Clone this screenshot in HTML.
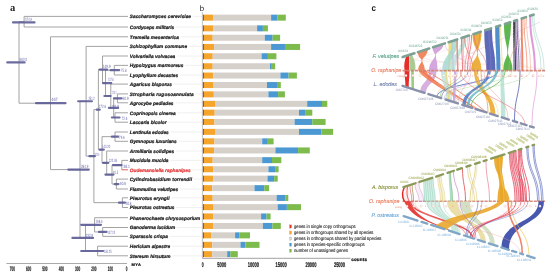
<!DOCTYPE html>
<html><head><meta charset="utf-8"><style>
html,body{margin:0;padding:0;background:#fff;}
body{width:550px;height:279px;overflow:hidden;}
svg{display:block;}
svg text{-webkit-font-smoothing:antialiased;text-rendering:geometricPrecision;} svg{will-change:transform;}
</style></head><body>
<svg width="550" height="279" viewBox="0 0 550 279">
<rect width="550" height="279" fill="#fff"/>
<g stroke="#989898" stroke-width="0.9" fill="none">
<line x1="19.0" y1="21.7" x2="19.0" y2="103.19599609375001"/>
<line x1="19.0" y1="21.7" x2="24.1" y2="21.7"/>
<line x1="19.0" y1="103.19599609375001" x2="50.5" y2="103.19599609375001"/>
<line x1="24.1" y1="16.4" x2="24.1" y2="27.0"/>
<line x1="24.1" y1="16.4" x2="128.0" y2="16.4"/>
<line x1="24.1" y1="27.0" x2="128.0" y2="27.0"/>
<line x1="50.5" y1="36.8" x2="50.5" y2="169.5919921875"/>
<line x1="50.5" y1="36.8" x2="128.0" y2="36.8"/>
<line x1="50.5" y1="169.5919921875" x2="80.0" y2="169.5919921875"/>
<line x1="80.0" y1="101.271484375" x2="80.0" y2="237.9125"/>
<line x1="80.0" y1="101.271484375" x2="86.1" y2="101.271484375"/>
<line x1="80.0" y1="237.9125" x2="85.5" y2="237.9125"/>
<line x1="86.1" y1="46.4" x2="86.1" y2="156.14296875"/>
<line x1="86.1" y1="46.4" x2="128.0" y2="46.4"/>
<line x1="86.1" y1="156.14296875" x2="93.9" y2="156.14296875"/>
<line x1="93.9" y1="109.6359375" x2="93.9" y2="202.65"/>
<line x1="93.9" y1="109.6359375" x2="98.4" y2="109.6359375"/>
<line x1="93.9" y1="202.65" x2="122.4" y2="202.65"/>
<line x1="98.4" y1="69.553125" x2="98.4" y2="149.71875"/>
<line x1="98.4" y1="69.553125" x2="102.5" y2="69.553125"/>
<line x1="98.4" y1="149.71875" x2="102.0" y2="149.71875"/>
<line x1="102.5" y1="56.0" x2="102.5" y2="83.10624999999999"/>
<line x1="102.5" y1="56.0" x2="128.0" y2="56.0"/>
<line x1="102.5" y1="83.10624999999999" x2="105.5" y2="83.10624999999999"/>
<line x1="105.5" y1="70.2" x2="105.5" y2="96.01249999999999"/>
<line x1="105.5" y1="70.2" x2="114.3" y2="70.2"/>
<line x1="105.5" y1="96.01249999999999" x2="110.8" y2="96.01249999999999"/>
<line x1="114.3" y1="65.4" x2="114.3" y2="75.0"/>
<line x1="114.3" y1="65.4" x2="128.0" y2="65.4"/>
<line x1="114.3" y1="75.0" x2="128.0" y2="75.0"/>
<line x1="110.8" y1="84.1" x2="110.8" y2="107.925"/>
<line x1="110.8" y1="84.1" x2="128.0" y2="84.1"/>
<line x1="110.8" y1="107.925" x2="113.7" y2="107.925"/>
<line x1="113.7" y1="98.35" x2="113.7" y2="117.5"/>
<line x1="113.7" y1="98.35" x2="117.4" y2="98.35"/>
<line x1="113.7" y1="117.5" x2="115.0" y2="117.5"/>
<line x1="117.4" y1="93.9" x2="117.4" y2="102.8"/>
<line x1="117.4" y1="93.9" x2="128.0" y2="93.9"/>
<line x1="117.4" y1="102.8" x2="128.0" y2="102.8"/>
<line x1="115.0" y1="112.8" x2="115.0" y2="122.2"/>
<line x1="115.0" y1="112.8" x2="128.0" y2="112.8"/>
<line x1="115.0" y1="122.2" x2="128.0" y2="122.2"/>
<line x1="102.0" y1="136.65" x2="102.0" y2="162.78750000000002"/>
<line x1="102.0" y1="136.65" x2="115.0" y2="136.65"/>
<line x1="102.0" y1="162.78750000000002" x2="106.7" y2="162.78750000000002"/>
<line x1="115.0" y1="132.0" x2="115.0" y2="141.3"/>
<line x1="115.0" y1="132.0" x2="128.0" y2="132.0"/>
<line x1="115.0" y1="141.3" x2="128.0" y2="141.3"/>
<line x1="106.7" y1="151.0" x2="106.7" y2="174.57500000000002"/>
<line x1="106.7" y1="151.0" x2="128.0" y2="151.0"/>
<line x1="106.7" y1="174.57500000000002" x2="112.0" y2="174.57500000000002"/>
<line x1="112.0" y1="165.10000000000002" x2="112.0" y2="184.05"/>
<line x1="112.0" y1="165.10000000000002" x2="121.8" y2="165.10000000000002"/>
<line x1="112.0" y1="184.05" x2="116.4" y2="184.05"/>
<line x1="121.8" y1="160.4" x2="121.8" y2="169.8"/>
<line x1="121.8" y1="160.4" x2="128.0" y2="160.4"/>
<line x1="121.8" y1="169.8" x2="128.0" y2="169.8" stroke="#e05050"/>
<line x1="116.4" y1="179.1" x2="116.4" y2="189.0"/>
<line x1="116.4" y1="179.1" x2="128.0" y2="179.1"/>
<line x1="116.4" y1="189.0" x2="128.0" y2="189.0"/>
<line x1="122.4" y1="197.8" x2="122.4" y2="207.5"/>
<line x1="122.4" y1="197.8" x2="128.0" y2="197.8"/>
<line x1="122.4" y1="207.5" x2="128.0" y2="207.5"/>
<line x1="85.5" y1="224.825" x2="85.5" y2="251.0"/>
<line x1="85.5" y1="224.825" x2="94.6" y2="224.825"/>
<line x1="85.5" y1="251.0" x2="97.6" y2="251.0"/>
<line x1="94.6" y1="217.7" x2="94.6" y2="231.95"/>
<line x1="94.6" y1="217.7" x2="128.0" y2="217.7"/>
<line x1="94.6" y1="231.95" x2="102.7" y2="231.95"/>
<line x1="102.7" y1="227.5" x2="102.7" y2="236.4"/>
<line x1="102.7" y1="227.5" x2="128.0" y2="227.5"/>
<line x1="102.7" y1="236.4" x2="128.0" y2="236.4"/>
<line x1="97.6" y1="246.2" x2="97.6" y2="255.8"/>
<line x1="97.6" y1="246.2" x2="128.0" y2="246.2"/>
<line x1="97.6" y1="255.8" x2="128.0" y2="255.8"/>
</g>
<g stroke="#ececec" stroke-width="0.8"><line x1="192.8" y1="16.4" x2="202.5" y2="16.4"/><line x1="176.0" y1="27.0" x2="202.5" y2="27.0"/><line x1="180.6" y1="36.8" x2="202.5" y2="36.8"/><line x1="188.9" y1="46.4" x2="202.5" y2="46.4"/><line x1="177.0" y1="56.0" x2="202.5" y2="56.0"/><line x1="185.2" y1="65.4" x2="202.5" y2="65.4"/><line x1="179.9" y1="75.0" x2="202.5" y2="75.0"/><line x1="173.7" y1="84.1" x2="202.5" y2="84.1"/><line x1="195.5" y1="93.9" x2="202.5" y2="93.9"/><line x1="175.3" y1="102.8" x2="202.5" y2="102.8"/><line x1="177.4" y1="112.8" x2="202.5" y2="112.8"/><line x1="168.4" y1="122.2" x2="202.5" y2="122.2"/><line x1="170.5" y1="132.0" x2="202.5" y2="132.0"/><line x1="178.4" y1="141.3" x2="202.5" y2="141.3"/><line x1="176.0" y1="151.0" x2="202.5" y2="151.0"/><line x1="170.3" y1="160.4" x2="202.5" y2="160.4"/><line x1="192.4" y1="169.8" x2="202.5" y2="169.8"/><line x1="193.8" y1="179.1" x2="202.5" y2="179.1"/><line x1="179.9" y1="189.0" x2="202.5" y2="189.0"/><line x1="171.3" y1="197.8" x2="202.5" y2="197.8"/><line x1="176.3" y1="207.5" x2="202.5" y2="207.5"/><line x1="202.0" y1="217.7" x2="202.5" y2="217.7"/><line x1="177.0" y1="227.5" x2="202.5" y2="227.5"/><line x1="169.7" y1="236.4" x2="202.5" y2="236.4"/><line x1="171.9" y1="246.2" x2="202.5" y2="246.2"/><line x1="172.3" y1="255.8" x2="202.5" y2="255.8"/></g>
<g stroke="#5f5f98" stroke-width="2.2" stroke-linecap="round" opacity="0.92"><line x1="7.30" y1="62.45" x2="24.60" y2="62.45"/><line x1="13.00" y1="22.40" x2="34.50" y2="22.40"/><line x1="36.10" y1="103.20" x2="65.50" y2="103.20"/><line x1="68.30" y1="169.59" x2="88.80" y2="169.59"/><line x1="78.20" y1="101.27" x2="91.90" y2="101.27"/><line x1="89.40" y1="156.14" x2="94.90" y2="156.14"/><line x1="96.90" y1="109.64" x2="99.70" y2="109.64"/><line x1="99.70" y1="69.55" x2="107.20" y2="69.55"/><line x1="103.00" y1="83.11" x2="111.30" y2="83.11"/><line x1="110.60" y1="70.20" x2="119.20" y2="70.20"/><line x1="104.40" y1="96.01" x2="110.60" y2="96.01"/><line x1="108.90" y1="107.92" x2="118.10" y2="107.92"/><line x1="114.00" y1="98.35" x2="121.50" y2="98.35"/><line x1="111.90" y1="117.50" x2="119.50" y2="117.50"/><line x1="99.70" y1="149.72" x2="103.80" y2="149.72"/><line x1="111.90" y1="136.65" x2="118.10" y2="136.65"/><line x1="103.00" y1="162.79" x2="108.30" y2="162.79"/><line x1="105.40" y1="174.58" x2="113.50" y2="174.58"/><line x1="113.00" y1="165.10" x2="121.50" y2="165.10"/><line x1="114.70" y1="184.05" x2="118.50" y2="184.05"/><line x1="119.00" y1="202.65" x2="125.00" y2="202.65"/><line x1="72.40" y1="237.91" x2="93.00" y2="237.91"/><line x1="81.20" y1="224.82" x2="101.00" y2="224.82"/><line x1="99.00" y1="231.95" x2="106.50" y2="231.95"/><line x1="81.20" y1="251.00" x2="103.10" y2="251.00"/></g>
<g font-family="Liberation Sans, sans-serif" font-size="4.6" fill="#6e6eb0"><text x="19.6" y="61.3" textLength="7.5" lengthAdjust="spacingAndGlyphs">662.0</text><text x="25.2" y="21.3" textLength="6.7" lengthAdjust="spacingAndGlyphs">574.9</text><text x="51.3" y="100.8" textLength="6.4" lengthAdjust="spacingAndGlyphs">467</text><text x="80.9" y="168.3" textLength="7.5" lengthAdjust="spacingAndGlyphs">284.9</text><text x="88.4" y="100.0" textLength="6.2" lengthAdjust="spacingAndGlyphs">251.2</text><text x="94.6" y="155.5" textLength="4.7" lengthAdjust="spacingAndGlyphs">202.6</text><text x="98.7" y="108.3" textLength="7.5" lengthAdjust="spacingAndGlyphs">172.6</text><text x="102.7" y="67.8" textLength="8.2" lengthAdjust="spacingAndGlyphs">149.9</text><text x="108.2" y="81.3" textLength="5.3" lengthAdjust="spacingAndGlyphs">137.8</text><text x="121.1" y="72.1" textLength="5.3" lengthAdjust="spacingAndGlyphs">75.8</text><text x="112.3" y="93.9" textLength="4.1" lengthAdjust="spacingAndGlyphs">120.4</text><text x="112.3" y="107.6" textLength="6.8" lengthAdjust="spacingAndGlyphs">99.8</text><text x="122.5" y="100.2" textLength="6.2" lengthAdjust="spacingAndGlyphs">60.9</text><text x="121.8" y="119.9" textLength="5.5" lengthAdjust="spacingAndGlyphs">72.6</text><text x="102.0" y="147.8" textLength="8.3" lengthAdjust="spacingAndGlyphs">143.20</text><text x="119.1" y="138.9" textLength="5.5" lengthAdjust="spacingAndGlyphs">79.6</text><text x="108.7" y="161.7" textLength="8.2" lengthAdjust="spacingAndGlyphs">122.48</text><text x="113.0" y="173.8" textLength="5.2" lengthAdjust="spacingAndGlyphs">91.5</text><text x="123.3" y="167.5" textLength="6.5" lengthAdjust="spacingAndGlyphs">38.1</text><text x="120.0" y="185.2" textLength="5.8" lengthAdjust="spacingAndGlyphs">60.8</text><text x="125.8" y="204.9" textLength="5.7" lengthAdjust="spacingAndGlyphs">30.8</text><text x="85.7" y="236.5" textLength="7.5" lengthAdjust="spacingAndGlyphs">232.9</text><text x="95.8" y="223.1" textLength="6.7" lengthAdjust="spacingAndGlyphs">198.6</text><text x="107.5" y="233.9" textLength="7.5" lengthAdjust="spacingAndGlyphs">147.23</text><text x="104.1" y="253.3" textLength="7.5" lengthAdjust="spacingAndGlyphs">181.25</text></g>
<g font-family="Liberation Sans, sans-serif" font-weight="bold" font-style="italic" font-size="4.75" stroke-width="0.22"><text x="129.8" y="18.35" fill="#1a1a1a" stroke="#1a1a1a" textLength="61.2" lengthAdjust="spacing">Saccharomyces cerevisiae</text><text x="129.8" y="28.95" fill="#1a1a1a" stroke="#1a1a1a" textLength="44.4" lengthAdjust="spacing">Cordyceps militaris</text><text x="129.8" y="38.75" fill="#1a1a1a" stroke="#1a1a1a" textLength="49.0" lengthAdjust="spacing">Tremella mesenterica</text><text x="129.8" y="48.35" fill="#1a1a1a" stroke="#1a1a1a" textLength="57.3" lengthAdjust="spacing">Schizophyllum commune</text><text x="129.8" y="57.95" fill="#1a1a1a" stroke="#1a1a1a" textLength="45.4" lengthAdjust="spacing">Volvariella volvacea</text><text x="129.8" y="67.35" fill="#1a1a1a" stroke="#1a1a1a" textLength="53.6" lengthAdjust="spacing">Hypsizygus marmoreus</text><text x="129.8" y="76.95" fill="#1a1a1a" stroke="#1a1a1a" textLength="48.3" lengthAdjust="spacing">Lyophyllum decastes</text><text x="129.8" y="86.05" fill="#1a1a1a" stroke="#1a1a1a" textLength="42.1" lengthAdjust="spacing">Agaricus bisporus</text><text x="129.8" y="95.85" fill="#1a1a1a" stroke="#1a1a1a" textLength="63.9" lengthAdjust="spacing">Stropharia rugosoannulata</text><text x="129.8" y="104.75" fill="#1a1a1a" stroke="#1a1a1a" textLength="43.7" lengthAdjust="spacing">Agrocybe pediades</text><text x="129.8" y="114.75" fill="#1a1a1a" stroke="#1a1a1a" textLength="45.8" lengthAdjust="spacing">Coprinopsis cinerea</text><text x="129.8" y="124.15" fill="#1a1a1a" stroke="#1a1a1a" textLength="36.8" lengthAdjust="spacing">Laccaria bicolor</text><text x="129.8" y="133.95" fill="#1a1a1a" stroke="#1a1a1a" textLength="38.9" lengthAdjust="spacing">Lentinula edodes</text><text x="129.8" y="143.25" fill="#1a1a1a" stroke="#1a1a1a" textLength="46.8" lengthAdjust="spacing">Gymnopus luxurians</text><text x="129.8" y="152.95" fill="#1a1a1a" stroke="#1a1a1a" textLength="44.4" lengthAdjust="spacing">Armillaria solidipes</text><text x="129.8" y="162.35" fill="#1a1a1a" stroke="#1a1a1a" textLength="38.7" lengthAdjust="spacing">Mucidula mucida</text><text x="129.8" y="171.75" fill="#e23a3a" stroke="#e23a3a" textLength="60.8" lengthAdjust="spacing">Oudemansiella raphanipes</text><text x="129.8" y="181.05" fill="#1a1a1a" stroke="#1a1a1a" textLength="62.2" lengthAdjust="spacing">Cylindrobasidium torrendii</text><text x="129.8" y="190.95" fill="#1a1a1a" stroke="#1a1a1a" textLength="48.3" lengthAdjust="spacing">Flammulina velutipes</text><text x="129.8" y="199.75" fill="#1a1a1a" stroke="#1a1a1a" textLength="39.7" lengthAdjust="spacing">Pleurotus eryngii</text><text x="129.8" y="209.45" fill="#1a1a1a" stroke="#1a1a1a" textLength="44.7" lengthAdjust="spacing">Pleurotus ostreatus</text><text x="129.8" y="219.65" fill="#1a1a1a" stroke="#1a1a1a" textLength="70.4" lengthAdjust="spacing">Phanerochaete chrysosporium</text><text x="129.8" y="229.45" fill="#1a1a1a" stroke="#1a1a1a" textLength="45.4" lengthAdjust="spacing">Ganoderma lucidum</text><text x="129.8" y="238.35" fill="#1a1a1a" stroke="#1a1a1a" textLength="38.1" lengthAdjust="spacing">Sparassis crispa</text><text x="129.8" y="248.15" fill="#1a1a1a" stroke="#1a1a1a" textLength="40.3" lengthAdjust="spacing">Hericium alpestre</text><text x="129.8" y="257.75" fill="#1a1a1a" stroke="#1a1a1a" textLength="40.7" lengthAdjust="spacing">Stereum hirsutum</text></g>
<line x1="6.4" y1="263.5" x2="127" y2="263.5" stroke="#a0a0a0" stroke-width="0.9"/>
<g font-family="Liberation Sans, sans-serif" font-weight="bold" font-size="6.6" fill="#222" stroke="#222" stroke-width="0.2"><text x="9.65" y="270.6" textLength="5.3" lengthAdjust="spacingAndGlyphs">700</text><text x="25.98" y="270.6" textLength="5.3" lengthAdjust="spacingAndGlyphs">600</text><text x="42.31" y="270.6" textLength="5.3" lengthAdjust="spacingAndGlyphs">500</text><text x="58.64" y="270.6" textLength="5.3" lengthAdjust="spacingAndGlyphs">400</text><text x="74.97" y="270.6" textLength="5.3" lengthAdjust="spacingAndGlyphs">300</text><text x="91.30" y="270.6" textLength="5.3" lengthAdjust="spacingAndGlyphs">200</text><text x="107.63" y="270.6" textLength="5.3" lengthAdjust="spacingAndGlyphs">100</text><text x="125.76" y="270.6" textLength="1.7" lengthAdjust="spacingAndGlyphs">0</text></g>
<text x="131.4" y="265.9" font-family="Liberation Sans, sans-serif" font-weight="bold" font-size="4.0" fill="#111" stroke="#111" stroke-width="0.2" textLength="9.6" lengthAdjust="spacing">MYA</text>
<text x="9.9" y="11.0" font-family="Liberation Serif, serif" font-weight="bold" font-size="10.5" fill="#222">a</text>
<rect x="202.8" y="14.65" width="1.20" height="6.0" fill="#e3321f"/><rect x="204.0" y="14.65" width="9.20" height="6.0" fill="#f5a42c"/><rect x="213.2" y="14.65" width="57.90" height="6.0" fill="#d6d0cb"/><rect x="271.1" y="14.65" width="6.20" height="6.0" fill="#4b98d2"/><rect x="277.3" y="14.65" width="8.50" height="6.0" fill="#7cbb4c"/><rect x="202.8" y="25.349999999999998" width="1.20" height="6.0" fill="#e3321f"/><rect x="204.0" y="25.349999999999998" width="9.20" height="6.0" fill="#f5a42c"/><rect x="213.2" y="25.349999999999998" width="43.90" height="6.0" fill="#d6d0cb"/><rect x="257.1" y="25.349999999999998" width="5.80" height="6.0" fill="#4b98d2"/><rect x="262.9" y="25.349999999999998" width="5.00" height="6.0" fill="#7cbb4c"/><rect x="202.8" y="34.75" width="1.20" height="6.0" fill="#e3321f"/><rect x="204.0" y="34.75" width="8.70" height="6.0" fill="#f5a42c"/><rect x="212.7" y="34.75" width="52.10" height="6.0" fill="#d6d0cb"/><rect x="264.8" y="34.75" width="7.80" height="6.0" fill="#4b98d2"/><rect x="272.6" y="34.75" width="7.50" height="6.0" fill="#7cbb4c"/><rect x="202.8" y="43.949999999999996" width="1.20" height="6.0" fill="#e3321f"/><rect x="204.0" y="43.949999999999996" width="10.10" height="6.0" fill="#f5a42c"/><rect x="214.1" y="43.949999999999996" width="57.00" height="6.0" fill="#d6d0cb"/><rect x="271.1" y="43.949999999999996" width="14.70" height="6.0" fill="#4b98d2"/><rect x="285.8" y="43.949999999999996" width="14.30" height="6.0" fill="#7cbb4c"/><rect x="202.8" y="53.25" width="1.20" height="6.0" fill="#e3321f"/><rect x="204.0" y="53.25" width="8.70" height="6.0" fill="#f5a42c"/><rect x="212.7" y="53.25" width="48.90" height="6.0" fill="#d6d0cb"/><rect x="261.6" y="53.25" width="6.30" height="6.0" fill="#4b98d2"/><rect x="267.9" y="53.25" width="8.50" height="6.0" fill="#7cbb4c"/><rect x="202.8" y="63.25" width="1.20" height="6.0" fill="#e3321f"/><rect x="204.0" y="63.25" width="8.70" height="6.0" fill="#f5a42c"/><rect x="212.7" y="63.25" width="57.30" height="6.0" fill="#d6d0cb"/><rect x="270.0" y="63.25" width="1.80" height="6.0" fill="#4b98d2"/><rect x="271.8" y="63.25" width="3.40" height="6.0" fill="#7cbb4c"/><rect x="202.8" y="72.55000000000001" width="1.20" height="6.0" fill="#e3321f"/><rect x="204.0" y="72.55000000000001" width="9.30" height="6.0" fill="#f5a42c"/><rect x="213.3" y="72.55000000000001" width="67.10" height="6.0" fill="#d6d0cb"/><rect x="280.4" y="72.55000000000001" width="8.20" height="6.0" fill="#4b98d2"/><rect x="288.6" y="72.55000000000001" width="8.30" height="6.0" fill="#7cbb4c"/><rect x="202.8" y="82.05000000000001" width="1.20" height="6.0" fill="#e3321f"/><rect x="204.0" y="82.05000000000001" width="9.00" height="6.0" fill="#f5a42c"/><rect x="213.0" y="82.05000000000001" width="54.00" height="6.0" fill="#d6d0cb"/><rect x="267.0" y="82.05000000000001" width="10.00" height="6.0" fill="#4b98d2"/><rect x="277.0" y="82.05000000000001" width="3.80" height="6.0" fill="#7cbb4c"/><rect x="202.8" y="91.35000000000001" width="1.20" height="6.0" fill="#e3321f"/><rect x="204.0" y="91.35000000000001" width="9.80" height="6.0" fill="#f5a42c"/><rect x="213.8" y="91.35000000000001" width="54.60" height="6.0" fill="#d6d0cb"/><rect x="268.4" y="91.35000000000001" width="9.70" height="6.0" fill="#4b98d2"/><rect x="278.1" y="91.35000000000001" width="6.80" height="6.0" fill="#7cbb4c"/><rect x="202.8" y="100.85000000000001" width="1.20" height="6.0" fill="#e3321f"/><rect x="204.0" y="100.85000000000001" width="11.00" height="6.0" fill="#f5a42c"/><rect x="215.0" y="100.85000000000001" width="92.20" height="6.0" fill="#d6d0cb"/><rect x="307.2" y="100.85000000000001" width="14.80" height="6.0" fill="#4b98d2"/><rect x="322.0" y="100.85000000000001" width="5.30" height="6.0" fill="#7cbb4c"/><rect x="202.8" y="109.65" width="1.20" height="6.0" fill="#e3321f"/><rect x="204.0" y="109.65" width="10.70" height="6.0" fill="#f5a42c"/><rect x="214.7" y="109.65" width="84.30" height="6.0" fill="#d6d0cb"/><rect x="299.0" y="109.65" width="6.10" height="6.0" fill="#4b98d2"/><rect x="305.1" y="109.65" width="7.20" height="6.0" fill="#7cbb4c"/><rect x="202.8" y="118.95" width="1.20" height="6.0" fill="#e3321f"/><rect x="204.0" y="118.95" width="10.50" height="6.0" fill="#f5a42c"/><rect x="214.5" y="118.95" width="80.10" height="6.0" fill="#d6d0cb"/><rect x="294.6" y="118.95" width="17.70" height="6.0" fill="#4b98d2"/><rect x="312.3" y="118.95" width="13.30" height="6.0" fill="#7cbb4c"/><rect x="202.8" y="128.85" width="1.20" height="6.0" fill="#e3321f"/><rect x="204.0" y="128.85" width="11.60" height="6.0" fill="#f5a42c"/><rect x="215.6" y="128.85" width="83.40" height="6.0" fill="#d6d0cb"/><rect x="299.0" y="128.85" width="22.40" height="6.0" fill="#4b98d2"/><rect x="321.4" y="128.85" width="11.70" height="6.0" fill="#7cbb4c"/><rect x="202.8" y="138.35" width="1.20" height="6.0" fill="#e3321f"/><rect x="204.0" y="138.35" width="10.50" height="6.0" fill="#f5a42c"/><rect x="214.5" y="138.35" width="47.70" height="6.0" fill="#d6d0cb"/><rect x="262.2" y="138.35" width="4.80" height="6.0" fill="#4b98d2"/><rect x="267.0" y="138.35" width="6.60" height="6.0" fill="#7cbb4c"/><rect x="202.8" y="147.45000000000002" width="1.20" height="6.0" fill="#e3321f"/><rect x="204.0" y="147.45000000000002" width="10.10" height="6.0" fill="#f5a42c"/><rect x="214.1" y="147.45000000000002" width="61.30" height="6.0" fill="#d6d0cb"/><rect x="275.4" y="147.45000000000002" width="22.70" height="6.0" fill="#4b98d2"/><rect x="298.1" y="147.45000000000002" width="11.70" height="6.0" fill="#7cbb4c"/><rect x="202.8" y="157.15" width="1.20" height="6.0" fill="#e3321f"/><rect x="204.0" y="157.15" width="8.70" height="6.0" fill="#f5a42c"/><rect x="212.7" y="157.15" width="49.50" height="6.0" fill="#d6d0cb"/><rect x="262.2" y="157.15" width="9.80" height="6.0" fill="#4b98d2"/><rect x="272.0" y="157.15" width="9.30" height="6.0" fill="#7cbb4c"/><rect x="202.8" y="166.25" width="1.20" height="6.0" fill="#e3321f"/><rect x="204.0" y="166.25" width="9.20" height="6.0" fill="#f5a42c"/><rect x="213.2" y="166.25" width="55.20" height="6.0" fill="#d6d0cb"/><rect x="268.4" y="166.25" width="6.70" height="6.0" fill="#4b98d2"/><rect x="275.1" y="166.25" width="3.50" height="6.0" fill="#7cbb4c"/><rect x="202.8" y="175.65" width="1.20" height="6.0" fill="#e3321f"/><rect x="204.0" y="175.65" width="9.20" height="6.0" fill="#f5a42c"/><rect x="213.2" y="175.65" width="54.30" height="6.0" fill="#d6d0cb"/><rect x="267.5" y="175.65" width="6.70" height="6.0" fill="#4b98d2"/><rect x="274.2" y="175.65" width="3.50" height="6.0" fill="#7cbb4c"/><rect x="202.8" y="185.15" width="1.20" height="6.0" fill="#e3321f"/><rect x="204.0" y="185.15" width="8.30" height="6.0" fill="#f5a42c"/><rect x="212.3" y="185.15" width="42.20" height="6.0" fill="#d6d0cb"/><rect x="254.5" y="185.15" width="9.80" height="6.0" fill="#4b98d2"/><rect x="264.3" y="185.15" width="4.80" height="6.0" fill="#7cbb4c"/><rect x="202.8" y="194.95000000000002" width="1.20" height="6.0" fill="#e3321f"/><rect x="204.0" y="194.95000000000002" width="8.70" height="6.0" fill="#f5a42c"/><rect x="212.7" y="194.95000000000002" width="63.90" height="6.0" fill="#d6d0cb"/><rect x="276.6" y="194.95000000000002" width="8.60" height="6.0" fill="#4b98d2"/><rect x="285.2" y="194.95000000000002" width="3.10" height="6.0" fill="#7cbb4c"/><rect x="202.8" y="204.15" width="1.20" height="6.0" fill="#e3321f"/><rect x="204.0" y="204.15" width="9.00" height="6.0" fill="#f5a42c"/><rect x="213.0" y="204.15" width="64.70" height="6.0" fill="#d6d0cb"/><rect x="277.7" y="204.15" width="9.20" height="6.0" fill="#4b98d2"/><rect x="286.9" y="204.15" width="14.10" height="6.0" fill="#7cbb4c"/><rect x="202.8" y="213.45000000000002" width="1.20" height="6.0" fill="#e3321f"/><rect x="204.0" y="213.45000000000002" width="9.20" height="6.0" fill="#f5a42c"/><rect x="213.2" y="213.45000000000002" width="47.90" height="6.0" fill="#d6d0cb"/><rect x="261.1" y="213.45000000000002" width="5.50" height="6.0" fill="#4b98d2"/><rect x="266.6" y="213.45000000000002" width="4.00" height="6.0" fill="#7cbb4c"/><rect x="202.8" y="222.95000000000002" width="1.20" height="6.0" fill="#e3321f"/><rect x="204.0" y="222.95000000000002" width="9.20" height="6.0" fill="#f5a42c"/><rect x="213.2" y="222.95000000000002" width="49.70" height="6.0" fill="#d6d0cb"/><rect x="262.9" y="222.95000000000002" width="9.50" height="6.0" fill="#4b98d2"/><rect x="272.4" y="222.95000000000002" width="8.40" height="6.0" fill="#7cbb4c"/><rect x="202.8" y="232.35" width="1.20" height="6.0" fill="#e3321f"/><rect x="204.0" y="232.35" width="7.10" height="6.0" fill="#f5a42c"/><rect x="211.1" y="232.35" width="24.00" height="6.0" fill="#d6d0cb"/><rect x="235.1" y="232.35" width="4.50" height="6.0" fill="#4b98d2"/><rect x="239.6" y="232.35" width="10.40" height="6.0" fill="#7cbb4c"/><rect x="202.8" y="241.85" width="1.20" height="6.0" fill="#e3321f"/><rect x="204.0" y="241.85" width="8.30" height="6.0" fill="#f5a42c"/><rect x="212.3" y="241.85" width="28.20" height="6.0" fill="#d6d0cb"/><rect x="240.5" y="241.85" width="5.00" height="6.0" fill="#4b98d2"/><rect x="245.5" y="241.85" width="14.00" height="6.0" fill="#7cbb4c"/><rect x="202.8" y="251.15" width="1.20" height="6.0" fill="#e3321f"/><rect x="204.0" y="251.15" width="8.30" height="6.0" fill="#f5a42c"/><rect x="212.3" y="251.15" width="14.90" height="6.0" fill="#d6d0cb"/><rect x="227.2" y="251.15" width="3.10" height="6.0" fill="#4b98d2"/><rect x="230.3" y="251.15" width="7.50" height="6.0" fill="#7cbb4c"/>
<line x1="202.4" y1="12" x2="202.4" y2="258.3" stroke="#b8b8b8" stroke-width="0.8"/>
<line x1="202.4" y1="258.3" x2="350.5" y2="258.3" stroke="#8a8a8a" stroke-width="0.8"/>
<g font-family="Liberation Sans, sans-serif" font-weight="bold" font-size="6.8" fill="#222" stroke="#222" stroke-width="0.22"><text x="201.65" y="267.2" textLength="1.9" lengthAdjust="spacingAndGlyphs">0</text><text x="217.20" y="267.2" textLength="9.0" lengthAdjust="spacingAndGlyphs">5000</text><text x="247.80" y="267.2" textLength="11.2" lengthAdjust="spacingAndGlyphs">10000</text><text x="275.60" y="267.2" textLength="11.2" lengthAdjust="spacingAndGlyphs">15000</text><text x="305.40" y="267.2" textLength="11.2" lengthAdjust="spacingAndGlyphs">20000</text><text x="333.90" y="267.2" textLength="11.2" lengthAdjust="spacingAndGlyphs">25000</text></g>
<text x="351.2" y="260.6" font-family="Liberation Sans, sans-serif" font-weight="bold" font-size="4.6" fill="#111" stroke="#111" stroke-width="0.2" textLength="15.8" lengthAdjust="spacing">counts</text>
<text x="199.8" y="10.8" font-family="Liberation Sans, sans-serif" font-size="7.8" fill="#222">b</text>
<g font-family="Liberation Sans, sans-serif" font-size="4.8" fill="#222" stroke="#222" stroke-width="0.1"><rect x="289.6" y="224.90" width="1.9" height="3.2" fill="#e3321f"/><text x="294" y="227.80" textLength="61.7" lengthAdjust="spacingAndGlyphs">genes in single copy orthogroups</text><rect x="289.6" y="230.95" width="1.9" height="3.2" fill="#f5a42c"/><text x="294" y="233.85" textLength="79.4" lengthAdjust="spacingAndGlyphs">genes in orthogroups shared by all species</text><rect x="289.6" y="237.00" width="1.9" height="3.2" fill="#d6d0cb"/><text x="294" y="239.90" textLength="87.4" lengthAdjust="spacingAndGlyphs">genes in orthogroups shared by partial species</text><rect x="289.6" y="243.05" width="1.9" height="3.2" fill="#4b98d2"/><text x="294" y="245.95" textLength="70.7" lengthAdjust="spacingAndGlyphs">genes in species-specific orthogroups</text><rect x="289.6" y="249.10" width="1.9" height="3.2" fill="#7cbb4c"/><text x="294" y="252.00" textLength="54" lengthAdjust="spacingAndGlyphs">number of unassigned genes</text></g>
<text x="371.6" y="11.3" font-family="Liberation Sans, sans-serif" font-weight="bold" font-size="9" fill="#222" textLength="4.5" lengthAdjust="spacingAndGlyphs">c</text>
<g><path d="M403.00,56.95 C403.00,63.77 545.00,63.77 545.00,70.60" fill="none" stroke="#f4c8b8" stroke-width="0.5" stroke-opacity="0.8"/><path d="M470.00,35.25 C470.00,52.93 402.00,52.93 402.00,70.60" fill="none" stroke="#f2d0c8" stroke-width="0.5" stroke-opacity="0.7"/><path d="M448.00,42.38 C448.00,56.49 530.00,56.49 530.00,70.60" fill="none" stroke="#d8e8b0" stroke-width="0.5" stroke-opacity="0.7"/><path d="M415.00,53.06 C415.00,61.83 470.00,61.83 470.00,70.60" fill="none" stroke="#e8c0e0" stroke-width="0.5" stroke-opacity="0.7"/><path d="M406.6,55.78 C404.6,60 403.6,65 404.6,70.6 L409.3,70.6 C409.3,65 409.2,60 409.2,54.94 Z" fill="#e3231f" fill-opacity="0.95"/><path d="M409.6,54.81 C409.6,60 410.0,66 410.1,70.6 L415.2,70.6 C416.2,65 414.5,59 411.6,54.16 Z" fill="#a2c489" fill-opacity="0.9"/><path d="M417.80,52.15 C417.80,57.20 421.70,58.04 421.70,60.57 C421.70,63.58 418.20,64.58 418.20,70.60 L424.80,70.60 C424.80,64.58 422.30,63.58 422.30,60.57 C422.30,57.07 427.80,55.91 427.80,48.92 Z" fill="#f07a4e" fill-opacity="0.9"/><path d="M432.50,47.39 C432.50,52.02 435.20,52.79 435.20,55.11 C435.20,59.76 429.00,61.31 429.00,70.60 L437.50,70.60 C437.50,61.31 435.80,59.76 435.80,55.11 C435.80,51.73 443.50,50.60 443.50,43.83 Z" fill="#cf9ad8" fill-opacity="0.88"/><path d="M448.60,42.18 C448.60,56.39 447.80,56.39 447.80,70.60 L450.60,70.60 C450.60,56.00 451.00,56.00 451.00,41.40 Z" fill="#efd96a" fill-opacity="0.85"/><path d="M450.20,41.66 C450.20,56.13 452.00,56.13 452.00,70.60" fill="none" stroke="#f0dc80" stroke-width="0.7" stroke-opacity="0.9"/><path d="M451.20,41.34 C451.20,55.97 452.20,55.97 452.20,70.60 L454.20,70.60 C454.20,55.68 453.00,55.68 453.00,40.76 Z" fill="#d4a8dc" fill-opacity="0.85"/><path d="M452.30,40.98 C452.30,55.79 442.30,55.79 442.30,70.60 L449.50,70.60 C449.50,54.87 458.00,54.87 458.00,39.14 Z" fill="#a3dad0" fill-opacity="0.85"/><path d="M461.50,38.00 C461.50,54.30 449.50,54.30 449.50,70.60 L455.50,70.60 C455.50,53.49 466.50,53.49 466.50,36.39 Z" fill="#b4e2da" fill-opacity="0.75"/><path d="M456.40,39.66 C456.40,55.13 457.00,55.13 457.00,70.60 L458.60,70.60 C458.60,54.90 457.80,54.90 457.80,39.20 Z" fill="#ec7a6a" fill-opacity="0.85"/><path d="M445.00,43.35 C445.00,56.97 470.00,56.97 470.00,70.60" fill="none" stroke="#d0a8e0" stroke-width="0.5" stroke-opacity="0.9"/><path d="M461.50,38.00 C461.50,54.30 462.50,54.30 462.50,70.60" fill="none" stroke="#e8606a" stroke-width="0.9" stroke-opacity="0.9"/><path d="M463.00,37.52 C463.00,54.06 464.00,54.06 464.00,70.60" fill="none" stroke="#f09080" stroke-width="0.6" stroke-opacity="0.9"/><path d="M471.50,34.77 C471.50,52.68 467.50,52.68 467.50,70.60" fill="none" stroke="#e8606a" stroke-width="0.9" stroke-opacity="0.9"/><path d="M464.50,37.03 C464.50,53.82 473.00,53.82 473.00,70.60" fill="none" stroke="#e87060" stroke-width="0.8" stroke-opacity="0.9"/><path d="M469.50,35.41 C469.50,53.01 465.00,53.01 465.00,70.60" fill="none" stroke="#e87080" stroke-width="0.7" stroke-opacity="0.9"/><path d="M467.50,36.06 C467.50,53.33 470.00,53.33 470.00,70.60" fill="none" stroke="#f0a0a0" stroke-width="0.5" stroke-opacity="0.9"/><path d="M436,70.5 C450,64 465,55 540,22" fill="none" stroke="#dcc0e8" stroke-width="0.5"/><path d="M472.50,34.44 C472.50,45.98 477.20,47.90 477.20,53.67 C477.20,58.75 471.00,60.44 471.00,70.60 L481.50,70.60 C481.50,60.44 477.80,58.75 477.80,53.67 C477.80,47.03 481.50,44.82 481.50,31.53 Z" fill="#e9a526" fill-opacity="0.88"/><path d="M474.00,33.96 C474.00,52.28 487.00,52.28 487.00,70.60" fill="none" stroke="#e2607a" stroke-width="0.6" stroke-opacity="0.9"/><path d="M480.00,32.01 C480.00,51.31 470.00,51.31 470.00,70.60" fill="none" stroke="#e87080" stroke-width="0.6" stroke-opacity="0.9"/><path d="M484.30,30.62 C484.30,50.61 486.50,50.61 486.50,70.60 L495.50,70.60 C495.50,49.36 492.00,49.36 492.00,28.13 Z" fill="#4d59b0" fill-opacity="0.9"/><path d="M489.00,29.10 C489.00,49.85 491.00,49.85 491.00,70.60" fill="none" stroke="#8890d8" stroke-width="0.4" stroke-opacity="0.9"/><path d="M495.20,27.09 C495.20,48.85 496.50,48.85 496.50,70.60 L500.50,70.60 C500.50,48.15 499.50,48.15 499.50,25.70 Z" fill="#3e82c6" fill-opacity="0.9"/><path d="M500.60,25.34 C500.60,47.97 502.20,47.97 502.20,70.60" fill="none" stroke="#efd96a" stroke-width="0.8" stroke-opacity="0.9"/><path d="M504.00,24.24 C504.00,41.23 507.45,44.06 507.45,52.55 C507.45,57.97 503.30,59.77 503.30,70.60 L512.50,70.60 C512.50,59.77 508.05,57.97 508.05,52.55 C508.05,43.38 511.00,40.32 511.00,21.98 Z" fill="#4cae3d" fill-opacity="0.9"/><path d="M513.50,21.17 C513.50,45.88 514.00,45.88 514.00,70.60" fill="none" stroke="#3c3c8c" stroke-width="1.0" stroke-opacity="0.9"/><path d="M514.60,20.81 C514.60,45.71 515.40,45.71 515.40,70.60" fill="none" stroke="#1a1a1a" stroke-width="1.1" stroke-opacity="0.9"/><path d="M515.80,20.42 C515.80,45.51 517.00,45.51 517.00,70.60" fill="none" stroke="#7a4aa0" stroke-width="1.0" stroke-opacity="0.9"/><path d="M517.20,19.97 C517.20,45.28 519.00,45.28 519.00,70.60" fill="none" stroke="#2a2a5a" stroke-width="0.7" stroke-opacity="0.9"/><path d="M518.00,19.71 C518.00,45.15 521.00,45.15 521.00,70.60" fill="none" stroke="#a070c0" stroke-width="0.5" stroke-opacity="0.9"/><path d="M520.80,18.80 C520.80,44.70 521.50,44.70 521.50,70.60 L523.50,70.60 C523.50,44.43 522.50,44.43 522.50,18.25 Z" fill="#ee7552" fill-opacity="0.9"/><path d="M524.00,17.77 C524.00,44.18 527.00,44.18 527.00,70.60" fill="none" stroke="#ee7552" stroke-width="0.7" stroke-opacity="0.9"/><path d="M526.50,16.96 C526.50,43.78 530.50,43.78 530.50,70.60" fill="none" stroke="#f0a080" stroke-width="0.6" stroke-opacity="0.9"/><path d="M529.20,16.08 C529.20,43.34 534.00,43.34 534.00,70.60 L536.00,70.60 C536.00,43.02 531.20,43.02 531.20,15.44 Z" fill="#dc8fd6" fill-opacity="0.9"/><path d="M532.50,15.01 C532.50,42.81 541.00,42.81 541.00,70.60" fill="none" stroke="#9fd4c0" stroke-width="0.6" stroke-opacity="0.9"/><path d="M534.00,14.53 C534.00,42.56 544.00,42.56 544.00,70.60" fill="none" stroke="#9fd4c0" stroke-width="0.6" stroke-opacity="0.9"/><path d="M526.00,17.12 C526.00,43.86 509.00,43.86 509.00,70.60" fill="none" stroke="#f0a070" stroke-width="0.5" stroke-opacity="0.9"/><path d="M404.60,70.60 C404.60,78.67 405.40,78.67 405.40,86.74 L408.80,87.82 C408.80,79.21 409.40,79.21 409.40,70.60 Z" fill="#e3231f" fill-opacity="0.95"/><path d="M411.20,70.60 C411.20,79.64 411.50,79.64 411.50,88.67 L414.00,89.47 C414.00,80.03 413.80,80.03 413.80,70.60 Z" fill="#8cc46a" fill-opacity="0.9"/><path d="M429.00,70.60 C429.00,83.16 420.50,82.11 420.50,91.53 L426.00,93.27 C426.00,83.07 436.50,84.20 436.50,70.60 Z" fill="#cfa2d8" fill-opacity="0.85"/><path d="M418.5,70.6 C421,78 446,91 479.5,110.25 L482.8,111.30 C447,91 428,77 426,70.6 Z" fill="#f07a4e" fill-opacity="0.85"/><path d="M424.5,70.6 C436,76 462,92 486.5,112.47" fill="none" stroke="#f07050" stroke-width="0.8"/><path d="M421,70.6 C430,78 452,92 476.5,109.30" fill="none" stroke="#f06848" stroke-width="0.8"/><path d="M423,70.6 C428,80 448,94 473.8,108.44" fill="none" stroke="#f08060" stroke-width="0.6"/><path d="M498.00,70.60 C498.00,83.68 437.00,83.68 437.00,96.76" fill="none" stroke="#4a70b8" stroke-width="0.9" stroke-opacity="0.9"/><path d="M441.00,70.60 C441.00,85.19 446.50,85.19 446.50,99.78 L451.00,101.21 C451.00,85.90 447.00,85.90 447.00,70.60 Z" fill="#b5e0d8" fill-opacity="0.7"/><path d="M446.50,70.60 C446.50,85.51 448.50,85.51 448.50,100.41" fill="none" stroke="#efd96a" stroke-width="0.9" stroke-opacity="0.9"/><path d="M450.00,70.60 C450.00,85.98 451.50,85.98 451.50,101.37" fill="none" stroke="#efd96a" stroke-width="0.9" stroke-opacity="0.9"/><path d="M454.00,70.60 C454.00,86.22 453.00,86.22 453.00,101.84 L455.50,102.63 C455.50,86.62 456.50,86.62 456.50,70.60 Z" fill="#c0a4e0" fill-opacity="0.85"/><path d="M462.00,70.60 C462.00,84.16 440.00,84.16 440.00,97.72" fill="none" stroke="#8cc46a" stroke-width="0.6" stroke-opacity="0.9"/><path d="M468.00,70.60 C468.00,84.40 441.50,84.40 441.50,98.19" fill="none" stroke="#4050a0" stroke-width="0.6" stroke-opacity="0.9"/><path d="M458.00,70.60 C458.00,83.68 437.00,83.68 437.00,96.76" fill="none" stroke="#f0b0a0" stroke-width="0.5" stroke-opacity="0.9"/><path d="M474.00,70.60 C474.00,92.17 490.50,92.17 490.50,113.74 L495.50,115.33 C495.50,92.96 478.00,92.96 478.00,70.60 Z" fill="#e9a526" fill-opacity="0.85"/><path d="M481.00,70.60 C481.00,91.77 488.00,91.77 488.00,112.95" fill="none" stroke="#e9a526" stroke-width="0.8" stroke-opacity="0.9"/><path d="M476.00,70.60 C476.00,93.44 498.50,93.44 498.50,116.28" fill="none" stroke="#efd96a" stroke-width="0.6" stroke-opacity="0.9"/><path d="M487.50,70.60 C487.50,87.73 462.50,87.73 462.50,104.86 L465.80,105.90 C465.80,88.25 490.80,88.25 490.80,70.60 Z" fill="#4a78c4" fill-opacity="0.85"/><path d="M495.00,70.60 C495.00,88.41 466.80,88.41 466.80,106.22 L469.40,107.04 C469.40,88.82 497.60,88.82 497.60,70.60 Z" fill="#5fb3c4" fill-opacity="0.8"/><path d="M505.00,70.60 C505.00,89.08 471.00,89.08 471.00,107.55" fill="none" stroke="#4cae3d" stroke-width="0.8" stroke-opacity="0.9"/><path d="M512.00,70.60 C512.00,84.95 445.00,84.95 445.00,99.30" fill="none" stroke="#b0d890" stroke-width="0.5" stroke-opacity="0.9"/><path d="M490.00,70.60 C490.00,84.79 444.00,84.79 444.00,98.99" fill="none" stroke="#c090d0" stroke-width="0.5" stroke-opacity="0.9"/><path d="M500.50,70.60 C500.50,93.84 501.00,93.84 501.00,117.07 L505.50,118.50 C505.50,94.55 504.00,94.55 504.00,70.60 Z" fill="#a8dccc" fill-opacity="0.75"/><path d="M520.00,70.60 C520.00,95.98 514.50,95.98 514.50,121.35" fill="none" stroke="#3a4aa8" stroke-width="0.8" stroke-opacity="0.9"/><path d="M537.00,70.60 C537.00,98.75 532.00,98.75 532.00,126.91" fill="none" stroke="#dc8fd6" stroke-width="0.7" stroke-opacity="0.9"/><path d="M460.00,70.60 C460.00,92.23 525.00,103.05 525.00,124.69" fill="none" stroke="#e85050" stroke-width="0.5" stroke-opacity="0.9"/><path d="M530.00,70.60 C530.00,86.70 456.00,86.70 456.00,102.79" fill="none" stroke="#b0d8a0" stroke-width="0.5" stroke-opacity="0.9"/><path d="M471.00,70.60 C471.00,87.01 458.00,87.01 458.00,103.43" fill="none" stroke="#e8a0c0" stroke-width="0.5" stroke-opacity="0.9"/><path d="M484.00,70.60 C484.00,94.95 508.00,94.95 508.00,119.29" fill="none" stroke="#f09090" stroke-width="0.5" stroke-opacity="0.9"/></g>
<g stroke="#7da193" stroke-width="2.6" stroke-linecap="round"><line x1="402.70" y1="57.04" x2="414.40" y2="53.26"/><line x1="417.90" y1="52.12" x2="429.20" y2="48.46"/><line x1="433.10" y1="47.20" x2="444.90" y2="43.38"/><line x1="448.60" y1="42.18" x2="457.20" y2="39.40"/><line x1="461.50" y1="38.00" x2="469.00" y2="35.58"/><line x1="473.40" y1="34.15" x2="480.80" y2="31.76"/><line x1="485.20" y1="30.33" x2="491.10" y2="28.42"/><line x1="496.10" y1="26.80" x2="500.20" y2="25.47"/><line x1="504.90" y1="23.95" x2="510.20" y2="22.24"/><line x1="514.10" y1="20.97" x2="516.90" y2="20.07"/><line x1="521.70" y1="18.51" x2="526.00" y2="17.12"/><line x1="530.00" y1="15.82" x2="533.60" y2="14.66"/></g>
<g stroke="#8890ab" stroke-width="2.4" stroke-linecap="round"><line x1="402.60" y1="85.85" x2="424.40" y2="92.77"/><line x1="428.40" y1="94.04" x2="441.20" y2="98.10"/><line x1="445.60" y1="99.49" x2="457.90" y2="103.40"/><line x1="462.30" y1="104.79" x2="472.10" y2="107.90"/><line x1="475.60" y1="109.01" x2="486.50" y2="112.47"/><line x1="490.00" y1="113.58" x2="497.70" y2="116.02"/><line x1="501.80" y1="117.33" x2="508.80" y2="119.55"/><line x1="512.90" y1="120.85" x2="517.30" y2="122.24"/><line x1="520.80" y1="123.35" x2="526.50" y2="125.16"/><line x1="530.00" y1="126.27" x2="533.70" y2="127.45"/></g>
<line x1="402.5" y1="70.6" x2="545.8" y2="70.6" stroke="#cf7b68" stroke-width="1.6" stroke-dasharray="3.2,0.9" opacity="0.85"/>
<line x1="402.5" y1="201.3" x2="545.3" y2="201.3" stroke="#cf7b68" stroke-width="1.6" stroke-dasharray="3.2,0.9" opacity="0.85"/>
<g><path d="M404.60,186.75 C404.60,194.03 404.20,194.03 404.20,201.30 L409.80,201.30 C409.80,193.38 408.60,193.38 408.60,185.46 Z" fill="#fbe0e0" fill-opacity="0.5"/><path d="M404.6,186.75 C401.8,192 402.0,197 404.4,201.3" fill="none" stroke="#e3231f" stroke-width="1.5"/><path d="M407.8,185.72 C406.2,192 407.0,197 409.2,201.3" fill="none" stroke="#e44" stroke-width="0.9"/><path d="M410.00,185.00 C410.00,193.15 411.80,193.15 411.80,201.30" fill="none" stroke="#e04040" stroke-width="0.6" stroke-opacity="0.9"/><path d="M412.20,184.29 C412.20,192.79 413.50,192.79 413.50,201.30" fill="none" stroke="#9a8a50" stroke-width="0.8" stroke-opacity="0.9"/><path d="M415.00,183.38 C415.00,192.34 419.00,192.34 419.00,201.30 L423.50,201.30 C423.50,191.72 418.80,191.72 418.80,182.15 Z" fill="#f4e0f0" fill-opacity="0.5" stroke="#d090c8" stroke-width="0.5"/><path d="M423.50,180.62 C423.50,190.96 424.00,190.96 424.00,201.30 L435.50,201.30 C435.50,189.34 433.50,189.34 433.50,177.38 Z" fill="#a6dcc8" fill-opacity="0.45"/><path d="M423.80,180.53 C423.80,190.91 424.50,190.91 424.50,201.30" fill="none" stroke="#86ceb6" stroke-width="0.55" stroke-opacity="0.85"/><path d="M425.60,179.94 C425.60,190.62 426.50,190.62 426.50,201.30" fill="none" stroke="#86ceb6" stroke-width="0.55" stroke-opacity="0.85"/><path d="M427.40,179.36 C427.40,190.33 428.60,190.33 428.60,201.30" fill="none" stroke="#86ceb6" stroke-width="0.55" stroke-opacity="0.85"/><path d="M429.20,178.78 C429.20,190.04 430.80,190.04 430.80,201.30" fill="none" stroke="#86ceb6" stroke-width="0.55" stroke-opacity="0.85"/><path d="M431.00,178.19 C431.00,189.75 433.00,189.75 433.00,201.30" fill="none" stroke="#86ceb6" stroke-width="0.55" stroke-opacity="0.85"/><path d="M433.00,177.54 C433.00,189.42 435.20,189.42 435.20,201.30" fill="none" stroke="#86ceb6" stroke-width="0.55" stroke-opacity="0.85"/><path d="M437.80,175.99 C437.80,188.64 440.50,188.64 440.50,201.30" fill="none" stroke="#e0d080" stroke-width="0.7" stroke-opacity="0.9"/><path d="M439.50,175.44 C439.50,188.37 442.50,188.37 442.50,201.30" fill="none" stroke="#e0d080" stroke-width="0.7" stroke-opacity="0.9"/><path d="M441.30,174.85 C441.30,188.08 445.00,188.08 445.00,201.30" fill="none" stroke="#e3d68a" stroke-width="0.7" stroke-opacity="0.9"/><path d="M438.00,175.92 C438.00,188.61 441.00,188.61 441.00,201.30 L444.50,201.30 C444.50,188.12 441.00,188.12 441.00,174.95 Z" fill="#e3d48c" fill-opacity="0.3"/><path d="M448.70,172.45 C448.70,186.88 450.00,186.88 450.00,201.30 L453.00,201.30 C453.00,186.50 451.00,186.50 451.00,171.71 Z" fill="#a0d8c0" fill-opacity="0.85"/><path d="M450.50,171.87 C450.50,186.58 452.50,186.58 452.50,201.30" fill="none" stroke="#8cc46a" stroke-width="0.6" stroke-opacity="0.9"/><path d="M453.50,170.90 C453.50,186.10 459.00,186.10 459.00,201.30" fill="none" stroke="#c090c8" stroke-width="0.8" stroke-opacity="0.9"/><path d="M462.50,167.98 C462.50,184.64 465.50,184.64 465.50,201.30" fill="none" stroke="#e04848" stroke-width="0.9" stroke-opacity="0.9"/><path d="M467.50,166.36 C467.50,183.83 474.50,183.83 474.50,201.30" fill="none" stroke="#e3d48c" stroke-width="0.9" stroke-opacity="0.9"/><path d="M469.50,165.71 C469.50,183.50 477.00,183.50 477.00,201.30" fill="none" stroke="#e3d48c" stroke-width="0.8" stroke-opacity="0.9"/><path d="M475.50,163.76 C475.50,182.53 470.00,182.53 470.00,201.30" fill="none" stroke="#e3cc78" stroke-width="0.9" stroke-opacity="0.9"/><path d="M477.00,163.27 C477.00,182.29 472.00,182.29 472.00,201.30" fill="none" stroke="#e3d48c" stroke-width="0.6" stroke-opacity="0.9"/><path d="M486.00,160.36 C486.00,180.83 489.50,180.83 489.50,201.30" fill="none" stroke="#e87080" stroke-width="0.7" stroke-opacity="0.9"/><path d="M494.00,157.76 C494.00,171.74 499.90,174.06 499.90,181.05 C499.90,187.13 497.50,189.15 497.50,201.30 L509.50,201.30 C509.50,189.15 500.50,187.13 500.50,181.05 C500.50,173.19 503.00,170.57 503.00,154.84 Z" fill="#e9a526" fill-opacity="0.9"/><path d="M497.00,156.79 C497.00,179.04 500.50,179.04 500.50,201.30 L505.50,201.30 C505.50,178.40 501.00,178.40 501.00,155.49 Z" fill="#e9a526" fill-opacity="0.9"/><path d="M499.50,155.98 C499.50,178.64 504.00,178.64 504.00,201.30" fill="none" stroke="#f4cc70" stroke-width="0.6" stroke-opacity="0.9"/><path d="M509.60,152.70 C509.60,177.00 515.00,177.00 515.00,201.30" fill="none" stroke="#e23a52" stroke-width="0.8" stroke-opacity="0.95"/><path d="M510.80,152.31 C510.80,176.81 517.00,176.81 517.00,201.30" fill="none" stroke="#e23a52" stroke-width="0.8" stroke-opacity="0.95"/><path d="M512.00,151.92 C512.00,176.61 519.00,176.61 519.00,201.30" fill="none" stroke="#e23a52" stroke-width="0.8" stroke-opacity="0.95"/><path d="M513.40,151.47 C513.40,176.39 521.50,176.39 521.50,201.30" fill="none" stroke="#e23a52" stroke-width="0.8" stroke-opacity="0.95"/><path d="M514.80,151.02 C514.80,176.16 523.50,176.16 523.50,201.30" fill="none" stroke="#e23a52" stroke-width="0.8" stroke-opacity="0.95"/><path d="M516.00,150.63 C516.00,175.96 525.50,175.96 525.50,201.30" fill="none" stroke="#e23a52" stroke-width="0.8" stroke-opacity="0.95"/><path d="M509.80,152.64 C509.80,176.97 515.50,176.97 515.50,201.30 L526.00,201.30 C526.00,175.96 516.00,175.96 516.00,150.63 Z" fill="#ec7f8c" fill-opacity="0.35"/><path d="M518.30,149.88 C518.30,175.59 520.50,175.59 520.50,201.30" fill="none" stroke="#e23a52" stroke-width="0.8" stroke-opacity="0.95"/><path d="M519.40,149.52 C519.40,175.41 523.00,175.41 523.00,201.30" fill="none" stroke="#e23a52" stroke-width="0.8" stroke-opacity="0.95"/><path d="M520.50,149.17 C520.50,175.23 526.50,175.23 526.50,201.30" fill="none" stroke="#e23a52" stroke-width="0.8" stroke-opacity="0.95"/><path d="M521.50,148.84 C521.50,175.07 529.50,175.07 529.50,201.30" fill="none" stroke="#e23a52" stroke-width="0.8" stroke-opacity="0.95"/><path d="M526.80,147.12 C526.80,174.21 537.50,174.21 537.50,201.30" fill="none" stroke="#3a4ab0" stroke-width="0.6" stroke-opacity="0.9"/><path d="M528.00,146.74 C528.00,174.02 539.00,174.02 539.00,201.30" fill="none" stroke="#3a4ab0" stroke-width="0.6" stroke-opacity="0.9"/><path d="M533.00,145.11 C533.00,173.21 541.50,173.21 541.50,201.30" fill="none" stroke="#3a4ab0" stroke-width="0.6" stroke-opacity="0.9"/><path d="M534.20,144.72 C534.20,173.01 543.00,173.01 543.00,201.30" fill="none" stroke="#3a4ab0" stroke-width="0.6" stroke-opacity="0.9"/><path d="M538.50,201.30 C538.50,201.30 538.50,201.30 538.50,201.30 L544.50,201.30 C544.50,201.30 544.50,201.30 544.50,201.30 Z" fill="#3a4aa8" fill-opacity="0.0"/><path d="M404.00,201.30 C412.00,219.48 432.00,222.52 452.00,231.61 L457.50,233.37 C437.50,223.75 417.50,220.54 409.50,201.30 Z" fill="#e3231f" fill-opacity="0.85"/><path d="M410.50,201.30 C410.50,217.89 472.50,221.58 472.50,238.17" fill="none" stroke="#e23a3a" stroke-width="1.4" stroke-opacity="0.9"/><path d="M412.50,201.30 C412.50,216.95 466.00,220.43 466.00,236.09" fill="none" stroke="#e85050" stroke-width="0.6" stroke-opacity="0.9"/><path d="M426.00,201.30 C426.00,216.45 452.00,216.45 452.00,231.61 L459.00,233.85 C459.00,217.57 440.00,217.57 440.00,201.30 Z" fill="#a6dcc8" fill-opacity="0.45"/><path d="M427.00,201.30 C427.00,216.53 452.50,216.53 452.50,231.77" fill="none" stroke="#8ed0b8" stroke-width="0.5" stroke-opacity="0.8"/><path d="M431.00,201.30 C431.00,216.85 454.50,216.85 454.50,232.41" fill="none" stroke="#8ed0b8" stroke-width="0.5" stroke-opacity="0.8"/><path d="M435.00,201.30 C435.00,217.17 456.50,217.17 456.50,233.05" fill="none" stroke="#8ed0b8" stroke-width="0.5" stroke-opacity="0.8"/><path d="M439.00,201.30 C439.00,217.49 458.50,217.49 458.50,233.69" fill="none" stroke="#8ed0b8" stroke-width="0.5" stroke-opacity="0.8"/><path d="M443.00,201.30 C443.00,217.73 460.00,217.73 460.00,234.17" fill="none" stroke="#8ed0b8" stroke-width="0.5" stroke-opacity="0.8"/><path d="M447.00,201.30 C447.00,221.01 480.50,221.01 480.50,240.73 L486.00,242.49 C486.00,221.89 458.00,221.89 458.00,201.30 Z" fill="#e3d48c" fill-opacity="0.75"/><path d="M460.00,201.30 C460.00,222.53 490.00,222.53 490.00,243.77 L495.00,245.37 C495.00,223.33 470.00,223.33 470.00,201.30 Z" fill="#c8d8b8" fill-opacity="0.8"/><path d="M498.50,201.30 C488.50,212.49 450.00,213.73 435.00,226.17 L446.50,229.85 C461.50,215.57 494.50,214.15 504.50,201.30 Z" fill="#e9a526" fill-opacity="0.88"/><path d="M538.50,201.30 C538.50,224.37 501.50,219.76 501.50,247.45 L509.00,249.85 C509.00,220.72 544.00,225.57 544.00,201.30 Z" fill="#3a4aa8" fill-opacity="0.92"/><path d="M478.00,201.30 C478.00,218.69 466.00,218.69 466.00,236.09" fill="none" stroke="#5060c0" stroke-width="0.6" stroke-opacity="0.9"/><path d="M482.00,201.30 C482.00,218.93 467.50,218.93 467.50,236.57" fill="none" stroke="#7080c8" stroke-width="0.5" stroke-opacity="0.9"/><path d="M508.00,201.30 C508.00,227.70 522.30,227.70 522.30,254.10" fill="none" stroke="#ec7a60" stroke-width="1.6" stroke-opacity="0.9"/><path d="M511.00,201.30 C511.00,228.77 529.00,228.77 529.00,256.25" fill="none" stroke="#f0c040" stroke-width="0.7" stroke-opacity="0.9"/><path d="M516.00,201.30 C516.00,219.73 472.50,219.73 472.50,238.17" fill="none" stroke="#e44050" stroke-width="0.9" stroke-opacity="0.9"/><path d="M521.00,201.30 C521.00,219.33 470.00,219.33 470.00,237.37" fill="none" stroke="#e85060" stroke-width="0.8" stroke-opacity="0.9"/><path d="M525.00,201.30 C525.00,218.85 467.00,218.85 467.00,236.41" fill="none" stroke="#e86070" stroke-width="0.6" stroke-opacity="0.9"/><path d="M512.00,201.30 C512.00,219.97 474.00,219.97 474.00,238.65" fill="none" stroke="#e85060" stroke-width="0.6" stroke-opacity="0.9"/><path d="M528.00,201.30 C528.00,219.33 470.00,219.33 470.00,237.37" fill="none" stroke="#5060c0" stroke-width="0.5" stroke-opacity="0.9"/><path d="M460.00,201.30 C460.00,220.29 476.00,220.29 476.00,239.29" fill="none" stroke="#a070c0" stroke-width="0.6" stroke-opacity="0.9"/><path d="M415.00,201.30 C415.00,227.33 520.00,227.33 520.00,253.37" fill="none" stroke="#f0a0a0" stroke-width="0.4" stroke-opacity="0.9"/></g>
<g stroke="#8b9a58" stroke-width="2.3" stroke-linecap="round"><line x1="403.40" y1="187.14" x2="415.50" y2="183.22"/><line x1="419.40" y1="181.95" x2="432.20" y2="177.80"/><line x1="436.10" y1="176.54" x2="443.10" y2="174.27"/><line x1="447.50" y1="172.84" x2="453.90" y2="170.77"/><line x1="457.20" y1="169.70" x2="461.90" y2="168.17"/><line x1="466.40" y1="166.71" x2="470.50" y2="165.38"/><line x1="475.00" y1="163.92" x2="479.70" y2="162.40"/><line x1="483.60" y1="161.13" x2="486.60" y2="160.16"/><line x1="491.10" y1="158.70" x2="504.50" y2="154.36"/><line x1="508.70" y1="152.99" x2="515.30" y2="150.85"/><line x1="518.70" y1="149.75" x2="521.50" y2="148.84"/><line x1="526.30" y1="147.29" x2="528.40" y2="146.61"/><line x1="532.50" y1="145.28" x2="534.10" y2="144.76"/></g>
<g stroke="#7fa6c6" stroke-width="2.3" stroke-linecap="round"><line x1="403.70" y1="216.15" x2="417.50" y2="220.57"/><line x1="421.50" y1="221.85" x2="427.30" y2="223.70"/><line x1="431.20" y1="224.95" x2="444.50" y2="229.21"/><line x1="449.00" y1="230.65" x2="459.60" y2="234.04"/><line x1="464.10" y1="235.48" x2="474.00" y2="238.65"/><line x1="477.90" y1="239.90" x2="484.90" y2="242.14"/><line x1="488.80" y1="243.38" x2="497.50" y2="246.17"/><line x1="501.30" y1="247.38" x2="508.80" y2="249.78"/><line x1="512.10" y1="250.84" x2="516.30" y2="252.18"/><line x1="520.20" y1="253.43" x2="523.10" y2="254.36"/><line x1="527.10" y1="255.64" x2="534.60" y2="258.04"/></g>
<g font-family="Liberation Sans, sans-serif" font-style="italic" font-size="5.4" stroke-width="0.1"><text x="372.4" y="58.1" fill="#55a088" stroke="#55a088" textLength="26.9" lengthAdjust="spacingAndGlyphs">F. velutipes</text><text x="371.2" y="72.0" fill="#e8785a" stroke="#e8785a" textLength="30.0" lengthAdjust="spacingAndGlyphs">O. raphanipe</text><text x="373.6" y="86.3" fill="#7080aa" stroke="#7080aa" textLength="23.3" lengthAdjust="spacingAndGlyphs">L. edodes</text><text x="371.9" y="189.4" fill="#858f34" stroke="#858f34" textLength="26.2" lengthAdjust="spacingAndGlyphs">A. bisporus</text><text x="368.9" y="202.8" fill="#e8785a" stroke="#e8785a" textLength="30.5" lengthAdjust="spacingAndGlyphs">O. raphanipe</text><text x="371.6" y="217.1" fill="#64a4d6" stroke="#64a4d6" textLength="27.2" lengthAdjust="spacingAndGlyphs">P. ostreatus</text></g><g font-family="Liberation Sans, sans-serif" font-size="3.3"><text x="398.0" y="52.3" fill="#5c9e88" textLength="9.9" lengthAdjust="spacingAndGlyphs">OX246724</text><text x="408.8" y="47.3" fill="#5c9e88" textLength="13.4" lengthAdjust="spacingAndGlyphs">OX246723</text><text x="423.0" y="43.2" fill="#5c9e88" textLength="13.5" lengthAdjust="spacingAndGlyphs">OX246722</text><text x="436.5" y="38.6" fill="#5c9e88" textLength="12.0" lengthAdjust="spacingAndGlyphs">OX246721</text><text x="449.7" y="34.5" fill="#5c9e88" textLength="10.7" lengthAdjust="spacingAndGlyphs">OX246720</text><text x="460.4" y="30.9" fill="#5c9e88" textLength="10.8" lengthAdjust="spacingAndGlyphs">OX246719</text><text x="471.2" y="27.1" fill="#5c9e88" textLength="10.8" lengthAdjust="spacingAndGlyphs">OX246724</text><text x="481.0" y="24.2" fill="#5c9e88" textLength="10.6" lengthAdjust="spacingAndGlyphs">OX246723</text><text x="492.5" y="20.5" fill="#5c9e88" textLength="10.0" lengthAdjust="spacingAndGlyphs">OX246722</text><text x="501.3" y="17.6" fill="#5c9e88" textLength="10.0" lengthAdjust="spacingAndGlyphs">OX246721</text><text x="508.8" y="14.8" fill="#5c9e88" textLength="10.1" lengthAdjust="spacingAndGlyphs">OX246720</text><text x="517.6" y="12.3" fill="#5c9e88" textLength="10.0" lengthAdjust="spacingAndGlyphs">OX246719</text><text x="527.6" y="9.8" fill="#5c9e88" textLength="10.1" lengthAdjust="spacingAndGlyphs">OX246718</text><text x="395.7" y="91.2" fill="#8e98b8" textLength="12.3" lengthAdjust="spacingAndGlyphs">CM027105</text><text x="418.3" y="99.6" fill="#8e98b8" textLength="15.2" lengthAdjust="spacingAndGlyphs">CM027106</text><text x="435.0" y="105.0" fill="#8e98b8" textLength="14.5" lengthAdjust="spacingAndGlyphs">CM027107</text><text x="450.3" y="108.6" fill="#8e98b8" textLength="14.5" lengthAdjust="spacingAndGlyphs">CM027108</text><text x="464.8" y="113.0" fill="#8e98b8" textLength="11.1" lengthAdjust="spacingAndGlyphs">CM027109</text><text x="475.9" y="118.0" fill="#8e98b8" textLength="14.4" lengthAdjust="spacingAndGlyphs">CM027110</text><text x="488.3" y="121.9" fill="#8e98b8" textLength="14.4" lengthAdjust="spacingAndGlyphs">CM027111</text><text x="498.1" y="124.5" fill="#8e98b8" textLength="13.1" lengthAdjust="spacingAndGlyphs">CM027112</text><text x="507.9" y="127.1" fill="#8e98b8" textLength="14.4" lengthAdjust="spacingAndGlyphs">CM027113</text><text x="515.8" y="130.4" fill="#8e98b8" textLength="13.7" lengthAdjust="spacingAndGlyphs">CM027114</text><text x="400.0" y="182.8" fill="#98a040" textLength="8.6" lengthAdjust="spacingAndGlyphs">CM008401</text><text x="408.6" y="178.8" fill="#98a040" textLength="15.5" lengthAdjust="spacingAndGlyphs">CM008402</text><text x="421.2" y="174.8" fill="#98a040" textLength="13.2" lengthAdjust="spacingAndGlyphs">CM008403</text><text x="433.3" y="171.3" fill="#98a040" textLength="12.6" lengthAdjust="spacingAndGlyphs">CM008404</text><text x="444.2" y="167.3" fill="#98a040" textLength="13.1" lengthAdjust="spacingAndGlyphs">CM008405</text><text x="455.0" y="164.0" fill="#98a040" textLength="12.6" lengthAdjust="spacingAndGlyphs">CM008406</text><text x="462.5" y="161.0" fill="#98a040" textLength="14.3" lengthAdjust="spacingAndGlyphs">CM008407</text><text x="471.0" y="157.6" fill="#98a040" textLength="15.5" lengthAdjust="spacingAndGlyphs">CM008408</text><text x="398.0" y="222.5" fill="#84b4dc" textLength="11.5" lengthAdjust="spacingAndGlyphs">KL198001</text><text x="409.5" y="226.8" fill="#84b4dc" textLength="13.2" lengthAdjust="spacingAndGlyphs">KL198002</text><text x="422.7" y="230.8" fill="#84b4dc" textLength="13.1" lengthAdjust="spacingAndGlyphs">KL198003</text><text x="437.6" y="236.0" fill="#84b4dc" textLength="13.7" lengthAdjust="spacingAndGlyphs">KL198004</text><text x="455.0" y="240.9" fill="#84b4dc" textLength="12.0" lengthAdjust="spacingAndGlyphs">KL198005</text><text x="465.9" y="244.9" fill="#84b4dc" textLength="13.8" lengthAdjust="spacingAndGlyphs">KL198006</text><text x="476.8" y="248.4" fill="#84b4dc" textLength="13.8" lengthAdjust="spacingAndGlyphs">KL198007</text><text x="487.7" y="251.8" fill="#84b4dc" textLength="13.2" lengthAdjust="spacingAndGlyphs">KL198008</text><text x="498.0" y="255.2" fill="#84b4dc" textLength="14.3" lengthAdjust="spacingAndGlyphs">KL198009</text><text x="506.5" y="257.1" fill="#84b4dc" textLength="13.7" lengthAdjust="spacingAndGlyphs">KL198010</text><text x="516.8" y="260.5" fill="#84b4dc" textLength="14.9" lengthAdjust="spacingAndGlyphs">KL198011</text></g><g font-family="Liberation Sans, sans-serif" font-size="2.9" fill="#c8cf92" stroke="#c8cf92" stroke-width="0.3"><text transform="translate(484.29,149.47) rotate(31)" x="0" y="0" textLength="9.0" lengthAdjust="spacingAndGlyphs">CM008440</text><text transform="translate(487.89,147.41) rotate(31)" x="0" y="0" textLength="9.0" lengthAdjust="spacingAndGlyphs">CM008441</text><text transform="translate(495.29,145.91) rotate(31)" x="0" y="0" textLength="9.0" lengthAdjust="spacingAndGlyphs">CM008442</text><text transform="translate(498.89,143.84) rotate(31)" x="0" y="0" textLength="9.0" lengthAdjust="spacingAndGlyphs">CM008443</text><text transform="translate(505.89,142.47) rotate(31)" x="0" y="0" textLength="9.0" lengthAdjust="spacingAndGlyphs">CM008444</text><text transform="translate(509.49,140.40) rotate(31)" x="0" y="0" textLength="9.0" lengthAdjust="spacingAndGlyphs">CM008445</text><text transform="translate(516.29,139.10) rotate(31)" x="0" y="0" textLength="9.0" lengthAdjust="spacingAndGlyphs">CM008446</text><text transform="translate(519.69,137.09) rotate(31)" x="0" y="0" textLength="9.0" lengthAdjust="spacingAndGlyphs">CM008447</text><text transform="translate(526.29,135.85) rotate(31)" x="0" y="0" textLength="9.0" lengthAdjust="spacingAndGlyphs">CM008448</text><text transform="translate(529.69,133.85) rotate(31)" x="0" y="0" textLength="9.0" lengthAdjust="spacingAndGlyphs">CM008449</text></g><g font-family="Liberation Sans, sans-serif" font-size="2.6" fill="#e08870"><text x="397.6" y="76.6">contig</text><text x="395.0" y="207.6">contig</text></g><circle cx="406" cy="75.6" r="1.1" fill="#fff" stroke="#eeb8a8" stroke-width="0.4"/><circle cx="413" cy="75.6" r="1.1" fill="#fff" stroke="#eeb8a8" stroke-width="0.4"/><circle cx="420" cy="75.6" r="1.1" fill="#fff" stroke="#eeb8a8" stroke-width="0.4"/><circle cx="432" cy="75.6" r="1.1" fill="#fff" stroke="#eeb8a8" stroke-width="0.4"/><circle cx="444" cy="75.6" r="1.1" fill="#fff" stroke="#eeb8a8" stroke-width="0.4"/><circle cx="455" cy="75.6" r="1.1" fill="#fff" stroke="#eeb8a8" stroke-width="0.4"/><circle cx="466" cy="75.6" r="1.1" fill="#fff" stroke="#eeb8a8" stroke-width="0.4"/><circle cx="478" cy="75.6" r="1.1" fill="#fff" stroke="#eeb8a8" stroke-width="0.4"/><circle cx="489" cy="75.6" r="1.1" fill="#fff" stroke="#eeb8a8" stroke-width="0.4"/><circle cx="500" cy="75.6" r="1.1" fill="#fff" stroke="#eeb8a8" stroke-width="0.4"/><circle cx="511" cy="75.6" r="1.1" fill="#fff" stroke="#eeb8a8" stroke-width="0.4"/><circle cx="522" cy="75.6" r="1.1" fill="#fff" stroke="#eeb8a8" stroke-width="0.4"/><circle cx="533" cy="75.6" r="1.1" fill="#fff" stroke="#eeb8a8" stroke-width="0.4"/><circle cx="541" cy="75.6" r="1.1" fill="#fff" stroke="#eeb8a8" stroke-width="0.4"/><circle cx="407" cy="206.2" r="1.1" fill="#fff" stroke="#eeb8a8" stroke-width="0.4"/><circle cx="414" cy="206.2" r="1.1" fill="#fff" stroke="#eeb8a8" stroke-width="0.4"/><circle cx="421" cy="206.2" r="1.1" fill="#fff" stroke="#eeb8a8" stroke-width="0.4"/><circle cx="433" cy="206.2" r="1.1" fill="#fff" stroke="#eeb8a8" stroke-width="0.4"/><circle cx="446" cy="206.2" r="1.1" fill="#fff" stroke="#eeb8a8" stroke-width="0.4"/><circle cx="459" cy="206.2" r="1.1" fill="#fff" stroke="#eeb8a8" stroke-width="0.4"/><circle cx="472" cy="206.2" r="1.1" fill="#fff" stroke="#eeb8a8" stroke-width="0.4"/><circle cx="486" cy="206.2" r="1.1" fill="#fff" stroke="#eeb8a8" stroke-width="0.4"/><circle cx="505" cy="206.2" r="1.1" fill="#fff" stroke="#eeb8a8" stroke-width="0.4"/><circle cx="519" cy="206.2" r="1.1" fill="#fff" stroke="#eeb8a8" stroke-width="0.4"/><circle cx="530" cy="206.2" r="1.1" fill="#fff" stroke="#eeb8a8" stroke-width="0.4"/><circle cx="540" cy="206.2" r="1.1" fill="#fff" stroke="#eeb8a8" stroke-width="0.4"/><g font-family="Liberation Sans, sans-serif" font-size="2.4" fill="#e89080"><text x="448" y="76.6">1</text><text x="452" y="76.6">2</text><text x="456" y="76.6">3</text><text x="460" y="76.6">4</text><text x="464" y="76.6">5</text><text x="468" y="76.6">6</text><text x="472" y="76.6">7</text><text x="476" y="76.6">8</text><text x="481" y="76.6">9</text><text x="486" y="76.6">10</text><text x="491" y="76.6">11</text><text x="496" y="76.6">12</text><text x="502" y="76.6">13</text><text x="508" y="76.6">14</text><text x="514" y="76.6">15</text><text x="520" y="76.6">16</text><text x="526" y="76.6">1</text><text x="532" y="76.6">2</text><text x="538" y="76.6">3</text><text x="543" y="76.6">4</text><text x="425" y="207.4">1</text><text x="438" y="207.4">2</text><text x="452" y="207.4">3</text><text x="466" y="207.4">4</text><text x="480" y="207.4">5</text><text x="494" y="207.4">6</text><text x="512" y="207.4">7</text><text x="526" y="207.4">8</text><text x="535" y="207.4">9</text></g>
</svg>
</body></html>
